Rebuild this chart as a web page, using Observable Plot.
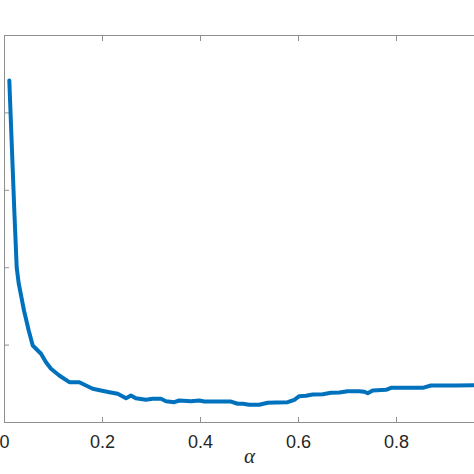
<!DOCTYPE html>
<html>
<head>
<meta charset="utf-8">
<script src="https://cdn.jsdelivr.net/npm/d3@7"></script>
<script src="https://cdn.jsdelivr.net/npm/@observablehq/plot@0.6"></script>
<style>
  html, body { margin: 0; padding: 0; background: #fff; overflow: hidden; width: 474px; height: 474px; }
  #chart { width: 474px; height: 474px; overflow: hidden; }
  #chart svg { display: block; margin-left: -56px; max-width: none !important; width: 580px !important; height: 474px !important; }
</style>
</head>
<body>
<div id="chart"></div>
<script>
const alpha = [0.0098, 0.020, 0.0249, 0.029, 0.0398, 0.0494, 0.0576, 0.0745, 0.0847, 0.0949,
  0.1118, 0.1322, 0.1527, 0.1663, 0.18, 0.1969, 0.2139, 0.231, 0.248, 0.258,
  0.268, 0.2888, 0.3024, 0.3194, 0.3296, 0.3465, 0.3567, 0.3806, 0.3976, 0.4078,
  0.4418, 0.4622, 0.4759, 0.4861, 0.4996, 0.52, 0.5371, 0.5541, 0.578, 0.5914,
  0.6016, 0.6153, 0.629, 0.6494, 0.6663, 0.6833, 0.7004, 0.7241, 0.7343, 0.7412,
  0.7514, 0.7786, 0.7888, 0.8535, 0.8704, 0.9214, 0.9602, 1.0];
const value = [4.419, 2.739, 2.003, 1.796, 1.447, 1.189, 0.995, 0.888, 0.779, 0.694,
  0.607, 0.521, 0.521, 0.478, 0.435, 0.413, 0.391, 0.371, 0.314, 0.349,
  0.314, 0.293, 0.306, 0.306, 0.275, 0.262, 0.284, 0.275, 0.284, 0.271,
  0.271, 0.271, 0.242, 0.242, 0.229, 0.229, 0.255, 0.258, 0.262, 0.293,
  0.340, 0.345, 0.362, 0.366, 0.384, 0.388, 0.404, 0.404, 0.397, 0.379,
  0.413, 0.422, 0.448, 0.448, 0.478, 0.478, 0.482, 0.485];
const xTicks = [0, 0.2, 0.4, 0.6, 0.8];
const xTickLabels = ["0", "0.2", "0.4", "0.6", "0.8"];
const yTicks = [0, 1, 2, 3, 4, 5];
const xLabel = "α";

const data = alpha.map((a, i) => ({alpha: a, value: value[i]}));
const axisGray = "#8f8f8f";
const noText = () => "";

const chart = Plot.plot({
  width: 580,
  height: 474,
  marginLeft: 60,
  marginRight: 30,
  marginTop: 35,
  marginBottom: 52,
  style: {fontFamily: "'Liberation Sans', Arial, sans-serif", fontSize: "18px", color: "#262626", background: "#fff", overflow: "visible"},
  x: {domain: [0, 1]},
  y: {domain: [0, 5]},
  marks: [
    Plot.frame({stroke: axisGray, strokeWidth: 1}),
    Plot.axisX({ticks: xTicks, anchor: "bottom", tickSize: -5, stroke: axisGray, tickFormat: noText, label: null}),
    Plot.axisX({ticks: xTicks, anchor: "top", tickSize: -5, stroke: axisGray, tickFormat: noText, label: null}),
    Plot.axisX({ticks: xTicks, anchor: "bottom", tickSize: 0, tickPadding: 13, fill: "#262626",
      tickFormat: (d) => xTickLabels[xTicks.indexOf(d)], label: null, fontSize: 18}),
    Plot.axisY({ticks: yTicks, anchor: "left", tickSize: -5, stroke: axisGray, tickFormat: noText, label: null}),
    Plot.axisY({ticks: yTicks, anchor: "right", tickSize: -5, stroke: axisGray, tickFormat: noText, label: null}),
    Plot.line(data, {x: "alpha", y: "value", stroke: "#0072BD", strokeWidth: 4, strokeLinejoin: "round", strokeLinecap: "round"}),
    Plot.text([xLabel], {frameAnchor: "bottom", dy: 34, lineAnchor: "middle", text: d => d,
      fontFamily: "'Liberation Serif', 'DejaVu Serif', serif", fontStyle: "italic", fontSize: 21, fill: "#262626"})
  ]
});
document.getElementById("chart").appendChild(chart);
</script>
</body>
</html>
